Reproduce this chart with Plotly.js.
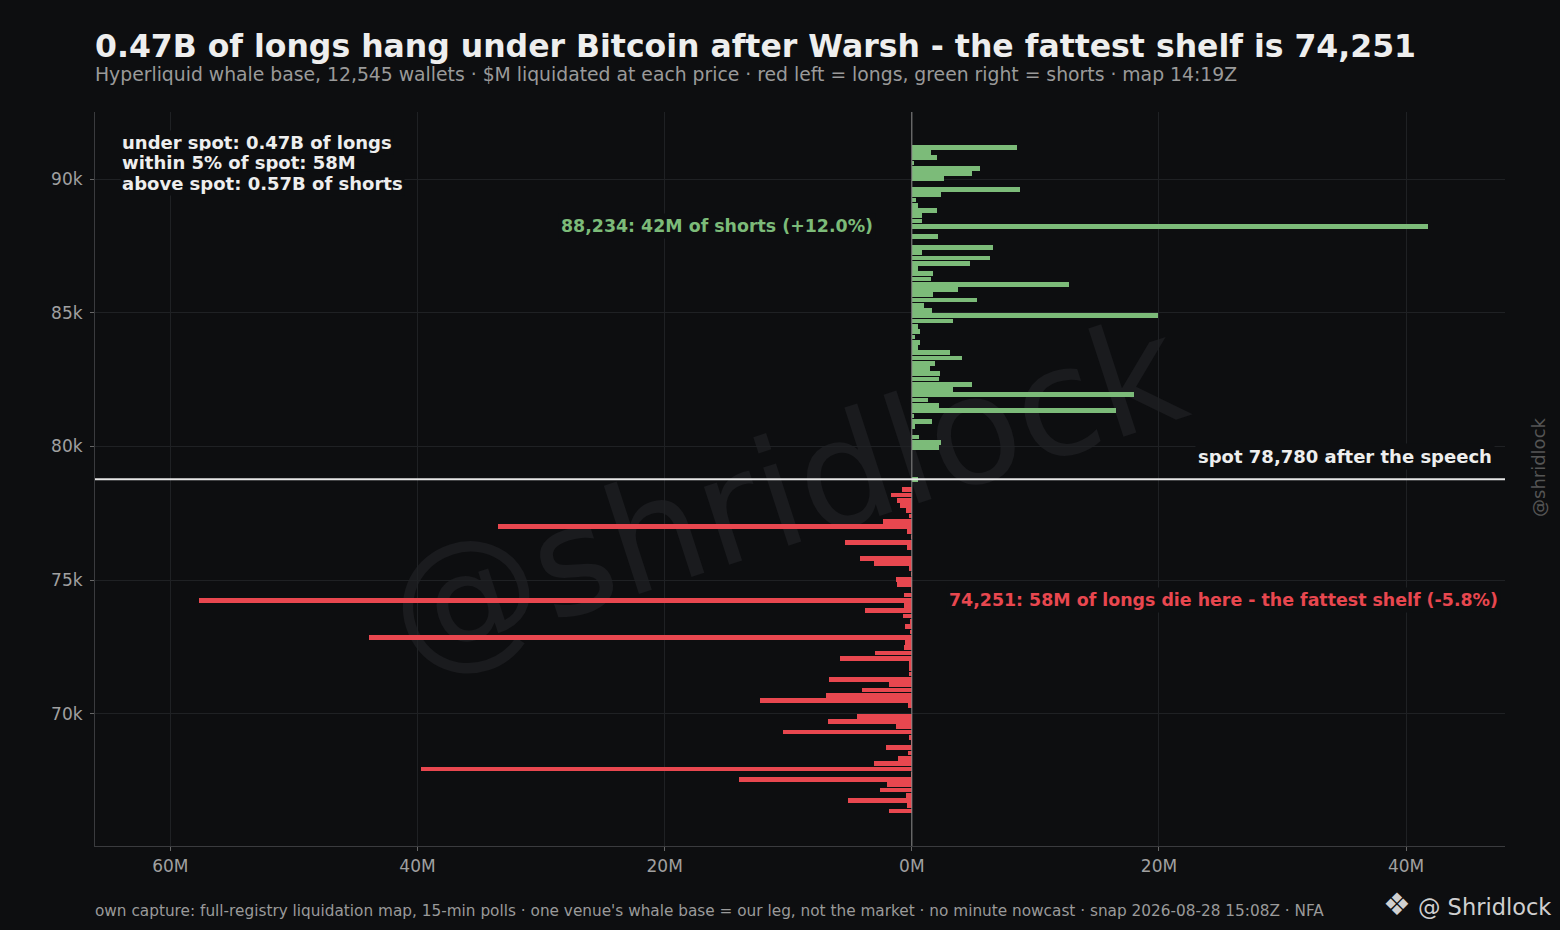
<!DOCTYPE html>
<html>
<head>
<meta charset="utf-8">
<script src="https://cdn.plot.ly/plotly-3.0.1.min.js"></script>
<style>
  html, body { margin: 0; padding: 0; background: #0d0e10; }
  #wrap { position: relative; width: 1560px; height: 930px; overflow: hidden; }
  #wm {
    position: absolute; left: 785px; top: 492px;
    transform: translate(-50%, -50%) rotate(-18deg);
    font-family: "DejaVu Sans", sans-serif; font-size: 150px; line-height: 1;
    color: #1a1b1e; white-space: nowrap; pointer-events: none;
  }
  #chart { position: absolute; left: 0; top: 0; width: 1560px; height: 930px; }
</style>
</head>
<body>
<div id="wrap">
  <div id="wm">@shridlock</div>
  <div id="chart"></div>
</div>
<script>
// Price levels (bins of 0.25% around spot 78,780) and $M liquidated at each
const shortPrices = [78780, 78977, 79174, 79371, 79568, 79765, 79962, 80159, 80356, 80553,
  80750, 80946, 81143, 81340, 81537, 81734, 81931, 82128, 82325, 82522,
  82719, 82916, 83113, 83310, 83507, 83704, 83901, 84098, 84295, 84492,
  84689, 84885, 85082, 85279, 85476, 85673, 85870, 86067, 86264, 86461,
  86658, 86855, 87052, 87249, 87446, 87643, 87840, 88037, 88234, 88431,
  88628, 88824, 89021, 89218, 89415, 89612, 89809, 90006, 90203, 90400,
  90597, 90794, 90991, 91188];
const shortsM = [0.5, 0, 0, 0, 0, 0, 2.2, 2.35, 0.55, 0,
  0.25, 1.6, 0.15, 16.5, 2.2, 1.3, 18.0, 3.3, 4.85, 2.2,
  2.25, 1.45, 1.85, 4.05, 3.1, 0.5, 0.7, 0.25, 0.65, 0.5,
  3.3, 19.9, 1.6, 1.0, 5.25, 1.75, 3.7, 12.7, 1.55, 1.7,
  0.5, 4.7, 6.3, 0.8, 6.6, 0, 2.1, 0, 41.8, 0.8,
  0.85, 2.0, 0.5, 0.3, 2.4, 8.75, 0, 2.6, 4.85, 5.5,
  0.15, 2.0, 1.55, 8.5];

const longPrices = [78583, 78386, 78189, 77992, 77795, 77598, 77401, 77204, 77007, 76810,
  76614, 76417, 76220, 76023, 75826, 75629, 75432, 75235, 75038, 74841,
  74644, 74447, 74251, 74053, 73856, 73659, 73462, 73265, 73068, 72872,
  72675, 72478, 72281, 72084, 71887, 71690, 71493, 71296, 71099, 70902,
  70705, 70508, 70311, 70114, 69917, 69720, 69523, 69326, 69129, 68933,
  68736, 68539, 68342, 68145, 67948, 67751, 67554, 67357, 67160, 66963,
  66766, 66569, 66372];
const longsM = [0, 0.8, 1.7, 1.2, 0.97, 0.5, 0.25, 2.35, 33.5, 0.4,
  0.1, 5.4, 0.4, 0, 4.2, 3.1, 0.25, 0.1, 1.3, 1.2,
  0.1, 0.65, 57.7, 0.65, 3.8, 0.7, 0.15, 0.55, 0.15, 43.9,
  0.55, 0.65, 3.0, 5.85, 0.2, 0.25, 0.2, 6.7, 1.85, 4.05,
  6.95, 12.3, 0.35, 0, 4.45, 6.8, 1.3, 10.45, 0.25, 0.1,
  2.1, 0.35, 1.15, 3.1, 39.7, 0.1, 13.95, 2.0, 2.6, 0.5,
  5.15, 0.4, 1.85];

const xTickVals = [-60, -40, -20, 0, 20, 40];
const xTickText = ['60M', '40M', '20M', '0M', '20M', '40M'];
const yTickVals = [70000, 75000, 80000, 85000, 90000];
const yTickText = ['70k', '75k', '80k', '85k', '90k'];

const spot = 78780;

const FONT = 'DejaVu Sans, sans-serif';
const BG = '#0d0e10';
const GREEN = '#7cbb79';
const RED = '#e8474f';

const traces = [
  {
    type: 'bar', orientation: 'h', name: 'shorts',
    y: shortPrices, x: shortsM, width: 177,
    marker: { color: GREEN, line: { width: 0 } }, hoverinfo: 'skip'
  },
  {
    type: 'bar', orientation: 'h', name: 'longs',
    y: longPrices, x: longsM.map(v => -v), width: 177,
    marker: { color: RED, line: { width: 0 } }, hoverinfo: 'skip'
  }
];

const L = 94.7, R = 1505, T = 112, B = 846;
const px = x => (x - L) / (R - L);
const py = y => (B - y) / (B - T);

const layout = {
  width: 1560, height: 930,
  margin: { l: L, r: 1560 - R, t: T, b: 930 - B, pad: 0 },
  paper_bgcolor: 'rgba(0,0,0,0)',
  plot_bgcolor: 'rgba(0,0,0,0)',
  showlegend: false,
  barmode: 'overlay',
  bargap: 0,
  font: { family: FONT, color: '#a0a0a0', size: 17 },
  title: {
    text: '0.47B of longs hang under Bitcoin after Warsh - the fattest shelf is 74,251',
    font: { family: FONT, size: 31.5, color: '#eeeeee', weight: 'bold' },
    xref: 'paper', x: 0, xanchor: 'left',
    yref: 'container', y: 1 - 46 / 930, yanchor: 'middle'
  },
  xaxis: {
    range: [-66.1, 48.0],
    tickvals: xTickVals, ticktext: xTickText,
    showgrid: true, gridcolor: '#1f2124', gridwidth: 1,
    zeroline: false,
    showline: true, linecolor: '#3a3b3e', linewidth: 1,
    ticks: 'outside', ticklen: 4, tickcolor: '#666', tickwidth: 1,
    ticklabelstandoff: 1,
    tickfont: { family: FONT, size: 17, color: '#a0a0a0' },
    fixedrange: true
  },
  yaxis: {
    range: [65065, 92505],
    tickvals: yTickVals, ticktext: yTickText,
    showgrid: true, gridcolor: '#1f2124', gridwidth: 1,
    zeroline: false,
    showline: true, linecolor: '#3a3b3e', linewidth: 1,
    ticks: 'outside', ticklen: 4, tickcolor: '#666', tickwidth: 1,
    ticklabelstandoff: 4,
    tickfont: { family: FONT, size: 17, color: '#a0a0a0' },
    fixedrange: true
  },
  shapes: [
    { type: 'line', xref: 'x', yref: 'paper', x0: 0, x1: 0, y0: 0, y1: 1,
      line: { color: '#8a8a8a', width: 1 }, layer: 'above' },
    { type: 'line', xref: 'paper', yref: 'y', x0: 0, x1: 1, y0: spot, y1: spot,
      line: { color: '#e6e6e6', width: 2 }, layer: 'above' }
  ],
  annotations: [
    { text: 'Hyperliquid whale base, 12,545 wallets · $M liquidated at each price · red left = longs, green right = shorts · map 14:19Z',
      xref: 'paper', yref: 'paper', x: px(92.5), y: py(74), xanchor: 'left', yanchor: 'middle',
      showarrow: false, font: { family: FONT, size: 18.8, color: '#9a9a9a' } },
    { text: 'under spot: 0.47B of longs',
      xref: 'paper', yref: 'paper', x: px(120), y: py(142), xanchor: 'left', yanchor: 'middle',
      showarrow: false, bgcolor: BG, borderpad: 1,
      font: { family: FONT, size: 18, color: '#eeeeee', weight: 'bold' } },
    { text: 'within 5% of spot: 58M',
      xref: 'paper', yref: 'paper', x: px(120), y: py(162.5), xanchor: 'left', yanchor: 'middle',
      showarrow: false, bgcolor: BG, borderpad: 1,
      font: { family: FONT, size: 18, color: '#eeeeee', weight: 'bold' } },
    { text: 'above spot: 0.57B of shorts',
      xref: 'paper', yref: 'paper', x: px(120), y: py(183), xanchor: 'left', yanchor: 'middle',
      showarrow: false, bgcolor: BG, borderpad: 1,
      font: { family: FONT, size: 18, color: '#eeeeee', weight: 'bold' } },
    { text: '88,234: 42M of shorts (+12.0%)',
      xref: 'x', yref: 'y', x: -2.9, y: 88234, xanchor: 'right', yanchor: 'middle',
      showarrow: false, bgcolor: BG, borderpad: 2,
      font: { family: FONT, size: 17.4, color: GREEN, weight: 'bold' } },
    { text: 'spot 78,780 after the speech',
      xref: 'x', yref: 'y', x: 47.2, y: 79645, xanchor: 'right', yanchor: 'middle',
      showarrow: false, bgcolor: BG, borderpad: 2,
      font: { family: FONT, size: 18, color: '#eeeeee', weight: 'bold' } },
    { text: '74,251: 58M of longs die here - the fattest shelf (-5.8%)',
      xref: 'x', yref: 'y', x: 2.8, y: 74251, xanchor: 'left', yanchor: 'middle',
      showarrow: false, bgcolor: BG, borderpad: 2,
      font: { family: FONT, size: 17.4, color: RED, weight: 'bold' } },
    { text: '@shridlock',
      xref: 'paper', yref: 'paper', x: px(1538), y: py(467), xanchor: 'center', yanchor: 'middle',
      textangle: -90, showarrow: false,
      font: { family: FONT, size: 18, color: '#555555' } },
    { text: 'own capture: full-registry liquidation map, 15-min polls · one venue\'s whale base = our leg, not the market · no minute nowcast · snap 2026-08-28 15:08Z · NFA',
      xref: 'paper', yref: 'paper', x: px(92.5), y: py(911), xanchor: 'left', yanchor: 'middle',
      showarrow: false, font: { family: FONT, size: 15.3, color: '#9a9a9a' } },
    { text: '<span style="font-size:31px">❖</span> @ Shridlock',
      xref: 'paper', yref: 'paper', x: px(1553), y: py(904), xanchor: 'right', yanchor: 'middle',
      showarrow: false, font: { family: FONT, size: 22.5, color: '#d0d0d0' } }
  ]
};

Plotly.newPlot('chart', traces, layout, { displayModeBar: false, staticPlot: true });
</script>
</body>
</html>
